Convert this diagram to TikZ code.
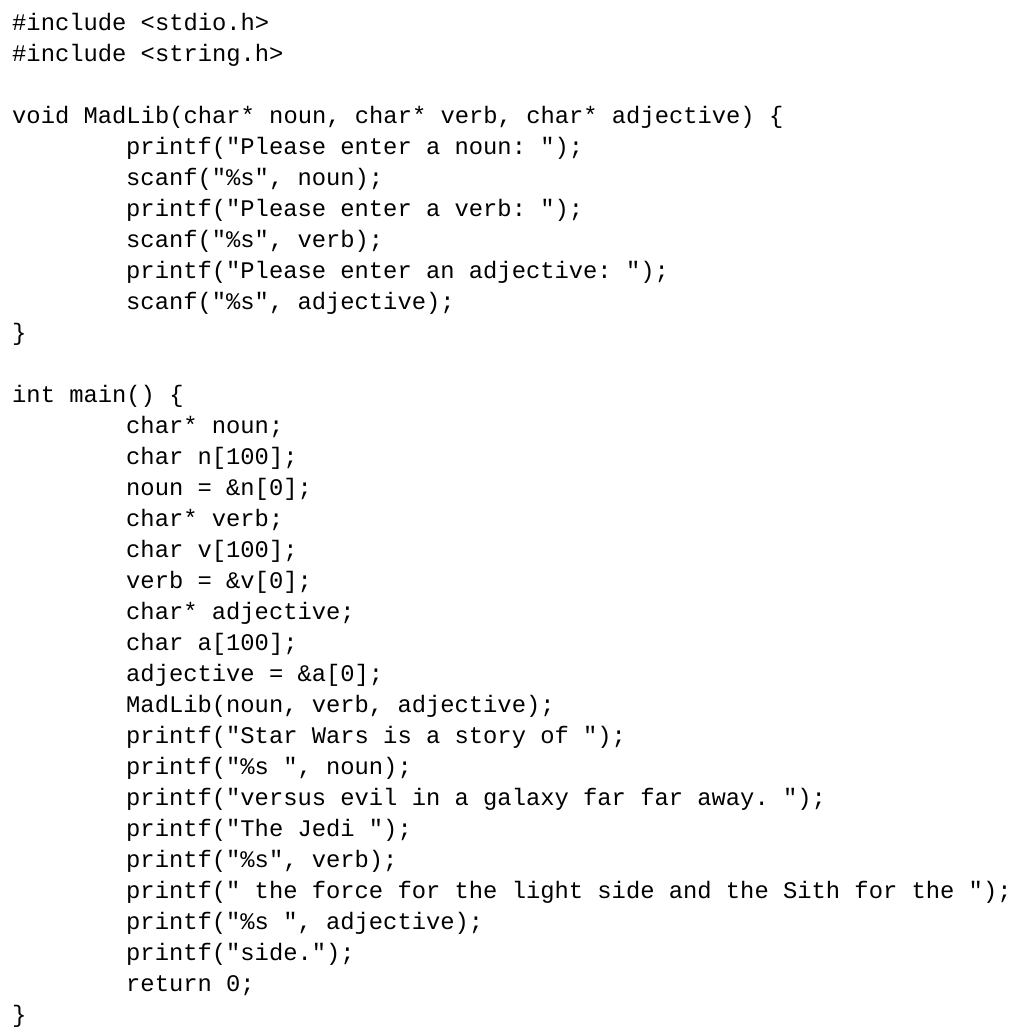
\documentclass[tikz,border=0pt]{standalone}
\usepackage{fontspec}
\setmonofont{Liberation Mono}
\begin{document}
\begin{tikzpicture}[x=1pt,y=-1pt,code/.style={anchor=base west,inner sep=0pt,font=\ttfamily\fontsize{23.8}{24}\selectfont}]
\useasboundingbox[fill=white] (0,0) rectangle (1018,1034);
\def\L{12}\def\I{126}
\node[code] (l0) at (\L,30) {\#include <stdio.h>};
\node[code] (l1) at (\L,61) {\#include <string.h>};
\node[code] (l3) at (\L,123) {void MadLib(char* noun, char* verb, char* adjective) \{};
\node[code] (l4) at (\I,154) {printf("Please enter a noun: ");};
\node[code] (l5) at (\I,185) {scanf("\%s", noun);};
\node[code] (l6) at (\I,216) {printf("Please enter a verb: ");};
\node[code] (l7) at (\I,247) {scanf("\%s", verb);};
\node[code] (l8) at (\I,278) {printf("Please enter an adjective: ");};
\node[code] (l9) at (\I,309) {scanf("\%s", adjective);};
\node[code] (l10) at (\L,340) {\}};
\node[code] (l12) at (\L,402) {int main() \{};
\node[code] (l13) at (\I,433) {char* noun;};
\node[code] (l14) at (\I,464) {char n[100];};
\node[code] (l15) at (\I,495) {noun = \&n[0];};
\node[code] (l16) at (\I,526) {char* verb;};
\node[code] (l17) at (\I,557) {char v[100];};
\node[code] (l18) at (\I,588) {verb = \&v[0];};
\node[code] (l19) at (\I,619) {char* adjective;};
\node[code] (l20) at (\I,650) {char a[100];};
\node[code] (l21) at (\I,681) {adjective = \&a[0];};
\node[code] (l22) at (\I,712) {MadLib(noun, verb, adjective);};
\node[code] (l23) at (\I,743) {printf("Star Wars is a story of ");};
\node[code] (l24) at (\I,774) {printf("\%s ", noun);};
\node[code] (l25) at (\I,805) {printf("versus evil in a galaxy far far away. ");};
\node[code] (l26) at (\I,836) {printf("The Jedi ");};
\node[code] (l27) at (\I,867) {printf("\%s", verb);};
\node[code] (l28) at (\I,898) {printf(" the force for the light side and the Sith for the ");};
\node[code] (l29) at (\I,929) {printf("\%s ", adjective);};
\node[code] (l30) at (\I,960) {printf("side.");};
\node[code] (l31) at (\I,991) {return 0;};
\node[code] (l32) at (\L,1022) {\}};
\end{tikzpicture}
\end{document}
